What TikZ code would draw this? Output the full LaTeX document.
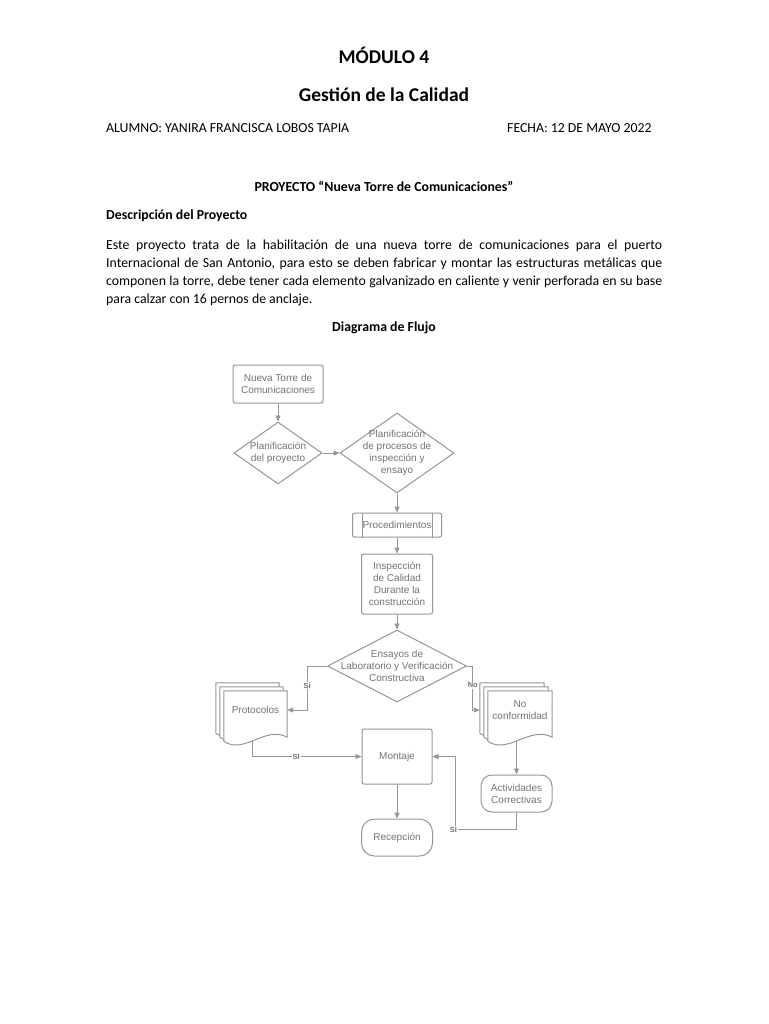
\documentclass[tikz,border=0pt]{standalone}
\usepackage{fontspec}
\setmainfont{Carlito}
\newfontfamily\lucidfont{Liberation Sans}
\usetikzlibrary{arrows.meta,positioning,shapes.geometric,calc}
\definecolor{flowline}{RGB}{150,150,150}
\definecolor{flowtext}{RGB}{115,115,115}
\pgfdeclarelayer{background}
\pgfsetlayers{background,main}

\begin{document}
\begin{tikzpicture}[
  x=1pt, y=-1pt,
  node distance=18pt,
  titulo/.style={font=\bfseries\fontsize{19.5}{23}\selectfont, anchor=base},
  encabezado/.style={font=\bfseries\fontsize{13.8}{17}\selectfont, anchor=base, inner sep=0pt},
  cuerpo/.style={font=\fontsize{13.8}{18.3}\selectfont, anchor=base west, inner sep=0pt},
  box/.style={rectangle, draw=flowline, line width=1pt, rounded corners=2pt, align=center,
    inner sep=1pt, font=\lucidfont\fontsize{10}{12}\selectfont, text=flowtext},
  terminal/.style={box, rounded corners=13pt},
  decision/.style={diamond, draw=flowline, line width=1pt, align=center, inner sep=-12pt,
    font=\lucidfont\fontsize{10}{12}\selectfont, text=flowtext},
  docnode/.style={rectangle, align=center, inner sep=0pt, minimum width=63pt, minimum height=38pt,
    font=\lucidfont\fontsize{10}{12}\selectfont, text=flowtext},
  arrow/.style={-{Triangle[length=6pt,width=5pt]}, draw=flowline, line width=0.9pt},
  link/.style={draw=flowline, line width=0.9pt},
  lbl/.style={fill=white, inner sep=1pt, font=\lucidfont\bfseries\fontsize{7.5}{9}\selectfont, text=flowtext}
]
\useasboundingbox (0,0) rectangle (768,1024);

% Encabezado del documento
\node[titulo] (modulo) at (384,64) {MÓDULO 4};
\node[titulo] (gestion) at (384,102) {Gestión de la Calidad};
\node[cuerpo] (alumno) at (106,132.5) {ALUMNO: YANIRA FRANCISCA LOBOS TAPIA};
\node[cuerpo] (fecha) at (507,132.5) {FECHA: 12 DE MAYO 2022};
\node[encabezado] (proyecto) at (384,191.5) {PROYECTO “Nueva Torre de Comunicaciones”};
\node[encabezado, anchor=base west] (descripcion) at (106,219.5) {Descripción del Proyecto};
\node[cuerpo, text width=556pt, align=justify] (parrafo) at (106,249) {Este proyecto trata de la habilitación de una nueva torre de comunicaciones para el puerto\linebreak
Internacional de San Antonio, para esto se deben fabricar y montar las estructuras metálicas que\linebreak
componen la torre, debe tener cada elemento galvanizado en caliente y venir perforada en su base\linebreak
para calzar con 16 pernos de anclaje.};
\node[encabezado] (diagrama) at (384,331.5) {Diagrama de Flujo};

% Nodos del diagrama
\node[box, minimum width=90pt, minimum height=38pt] (torre) at (278,384) {Nueva Torre de\\Comunicaciones};
\node[decision, aspect=1.4, minimum width=88pt, minimum height=62pt, below=18pt of torre] (plan) {Planificación\\del proyecto};
\node[decision, aspect=1.4, minimum width=114pt, minimum height=80pt, right=17pt of plan] (plantest) {Planificación\\de procesos de\\inspección y\\ensayo};
\node[box, minimum width=89pt, minimum height=24pt, below=19pt of plantest] (proced) {Procedimientos};
\node[box, minimum width=71pt, minimum height=60pt, below=16pt of proced] (inspec) {Inspección\\de Calidad\\Durante la\\construcción};
\node[decision, aspect=1.9, minimum width=139pt, minimum height=72pt, below=15pt of inspec] (ensayos) {Ensayos de\\Laboratorio y Verificación\\Constructiva};
\node[box, minimum width=70pt, minimum height=55pt, below=26pt of ensayos] (montaje) {Montaje};
\node[terminal, minimum width=71pt, minimum height=37pt, below=34pt of montaje] (recepcion) {Recepción};
\node[docnode] (protocolos) at (255.5,710) {Protocolos};
\node[docnode, minimum width=64pt] (noconf) at (520,710) {No\\conformidad};
\node[terminal, rounded corners=11pt, minimum width=71pt, minimum height=37pt] (actividades) at (516.5,793.5) {Actividades\\Correctivas};

% Barras del proceso predefinido
\draw[link, line width=1pt] ([xshift=10pt]proced.north west) -- ([xshift=10pt]proced.south west);
\draw[link, line width=1pt] ([xshift=-10pt]proced.north east) -- ([xshift=-10pt]proced.south east);

% Documentos apilados
\begin{pgfonlayer}{background}
  \fill[white] (0,0) rectangle (768,1024);
  \foreach \doc in {protocolos,noconf}
    \foreach \o in {8,4,0}
      \draw[link, line width=1pt, fill=white]
        ($(\doc.north west)-(\o,\o)$) -- ($(\doc.north east)-(\o,\o)$)
        -- ($(\doc.south east)+(0,8)-(\o,\o)$)
        .. controls ($(\doc.south east)+(-22,-4)-(\o,\o)$) and ($(\doc.south west)+(20,26)-(\o,\o)$)
        .. ($(\doc.south west)+(0,12)-(\o,\o)$) -- cycle;
\end{pgfonlayer}

% Conectores
\draw[arrow] (torre) -- (plan);
\draw[arrow] (plan) -- (plantest);
\draw[arrow] (plantest) -- (proced);
\draw[arrow] (proced) -- (inspec);
\draw[arrow] (inspec) -- (ensayos);
\draw[arrow] (ensayos.west) -| node[lbl, pos=0.72] {Sí} ($(protocolos.east)+(20,0)$) -- (protocolos.east);
\draw[arrow] (ensayos.east) -| node[lbl, pos=0.72] {No} ($(noconf.west)+(-15,0)$) -- ([xshift=-8pt]noconf.west);
\draw[arrow] ([xshift=-3pt,yshift=-12pt]protocolos.south) |- node[lbl, pos=0.7] {SI} (montaje.west);
\draw[arrow] ($(noconf.south -| actividades.north)+(0,12)$) -- (actividades);
\draw[arrow] (actividades.south) -- ++(0,17) -| node[lbl, pos=0.5, xshift=-2pt] {SI} ($(montaje.east)+(23,0)$) -- (montaje.east);
\draw[arrow] (montaje) -- (recepcion);
\end{tikzpicture}
\end{document}
